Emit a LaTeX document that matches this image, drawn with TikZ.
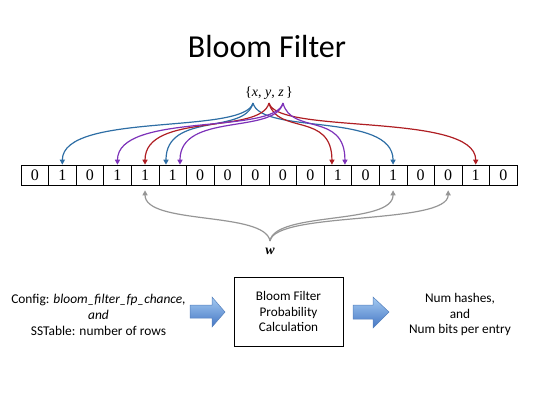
\documentclass[tikz,border=0pt]{standalone}
\usepackage{fontspec}
\setmainfont{Carlito}
\newfontfamily\seriffont{Liberation Serif}
\usetikzlibrary{arrows.meta}
\definecolor{cblue}{RGB}{46,110,165}
\definecolor{cred}{RGB}{175,30,35}
\definecolor{cpurple}{RGB}{125,50,185}
\definecolor{cgray}{RGB}{150,150,150}
\definecolor{arrowtop}{RGB}{165,203,242}
\definecolor{arrowbot}{RGB}{68,118,196}
\definecolor{arrowedge}{RGB}{85,128,188}
\begin{document}
\begin{tikzpicture}[x=1pt,y=-1pt,
  cell/.style={draw, line width=0.6pt, minimum width=27.56pt, minimum height=20pt, inner sep=0pt, font=\seriffont\fontsize{16}{16}\selectfont},
  hash/.style={line width=1.2pt, -{Triangle[width=5pt,length=5pt]}},
  txt/.style={align=center, inner sep=0pt, font=\fontsize{13.4}{16}\selectfont},
  blockarrow/.style={top color=arrowtop, bottom color=arrowbot, draw=arrowedge, line width=0.5pt}
]
\useasboundingbox (0,0) rectangle (536,402);

\node[font=\fontsize{32}{32}\selectfont] (title) at (267,47) {Bloom Filter};
\node[font=\seriffont\fontsize{14}{14}\selectfont] (set) at (269,93) {\{\textit{x}, \textit{y}, \textit{z}\,\}};

\foreach \v [count=\i from 0] in {0,1,0,1,1,1,0,0,0,0,0,1,0,1,0,0,1,0}
  \node[cell] (c\i) at ({21+27.56*(\i+0.5)},175) {\v};

\coordinate (xs) at (253,103);
\coordinate (ys) at (269,103);
\coordinate (zs) at (283,103);

% x (blue)
\draw[hash,cblue] (xs) .. controls +(-8,32) and +(0,-53) .. (c1.north);
\draw[hash,cblue] (xs) .. controls +(-8,32) and +(0,-53) .. ([xshift=-6.6pt]c5.north);
\draw[hash,cblue] (xs) .. controls +(8,32) and +(0,-53) .. (c13.north);
% y (red)
\draw[hash,cred] (ys) .. controls +(-8,32) and +(0,-53) .. (c4.north);
\draw[hash,cred] (ys) .. controls +(8,32) and +(0,-53) .. ([xshift=-6pt]c11.north);
\draw[hash,cred] (ys) .. controls +(8,32) and +(0,-53) .. (c16.north);
% z (purple)
\draw[hash,cpurple] (zs) .. controls +(-8,32) and +(0,-53) .. (c3.north);
\draw[hash,cpurple] (zs) .. controls +(-8,32) and +(0,-53) .. ([xshift=7.4pt]c5.north);
\draw[hash,cpurple] (zs) .. controls +(8,32) and +(0,-53) .. ([xshift=7pt]c11.north);

% w (gray)
\node[font=\seriffont\bfseries\itshape\fontsize{14}{14}\selectfont] (w) at (270,251) {w};
\coordinate (ws) at (270,241);
\draw[hash,cgray] (ws) .. controls +(-5,-30) and +(0,35) .. ([yshift=-5pt]c4.south);
\draw[hash,cgray] (ws) .. controls +(5,-30) and +(0,35) .. ([yshift=-5pt]c13.south);
\draw[hash,cgray] (ws) .. controls +(5,-30) and +(0,35) .. ([yshift=-5pt]c15.south);

% bottom row
\node[txt] (cfg) at (98.5,315) {Config: \textit{bloom\_filter\_fp\_chance,}\\ \textit{and}\\ SSTable: number of rows};
\node[draw, line width=1pt, minimum width=109pt, minimum height=69pt, align=center, font=\fontsize{13.2}{15.5}\selectfont] (calc) at (288.5,311.5) {Bloom Filter\\Probability\\Calculation};
\node[txt, font=\fontsize{13.3}{15.5}\selectfont] (out) at (460,314.5) {Num hashes,\\ and\\ Num bits per entry};

\shadedraw[blockarrow] (190,305) -- (212,305) -- (212,297) -- (225,312) -- (212,327) -- (212,318) -- (190,318) -- cycle;
\shadedraw[blockarrow] (353,305) -- (373,305) -- (373,297) -- (389,312) -- (373,328) -- (373,319) -- (353,319) -- cycle;
\end{tikzpicture}
\end{document}
